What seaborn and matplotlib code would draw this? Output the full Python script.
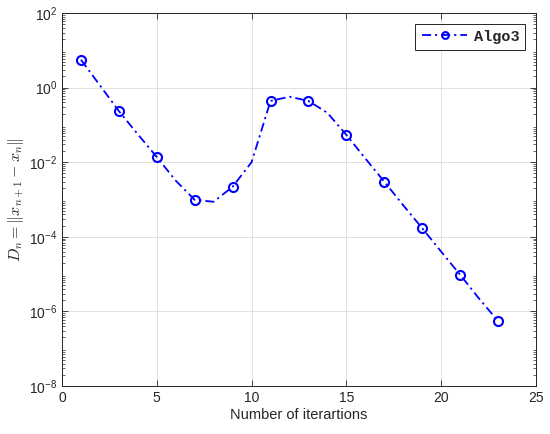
import numpy as np
import pandas as pd
import seaborn as sns
import matplotlib
import matplotlib.pyplot as plt
from matplotlib.ticker import FuncFormatter, FixedLocator, LogLocator, NullFormatter

matplotlib.use('Agg')

# iteration numbers and D_n values
iterations = list(range(1, 24))
dn_values = [5.6, 1.15, 0.235, 0.056, 0.0138, 3.2e-3, 9.8e-4, 8.7e-4, 2.2e-3, 1.0e-2,
             0.44, 0.57, 0.44, 0.21, 0.054, 0.0126, 3.0e-3, 7.0e-4, 1.7e-4, 4.0e-5,
             9.6e-6, 2.2e-6, 5.5e-7]
series_name = 'Algo3'

df = pd.DataFrame({'n': iterations, 'Dn': dn_values, 'algo': series_name})

sns.set_style('ticks')
plt.rcParams['font.family'] = ['Liberation Sans', 'DejaVu Sans']
plt.rcParams['axes.edgecolor'] = '#262626'
plt.rcParams['xtick.color'] = '#262626'
plt.rcParams['ytick.color'] = '#262626'

fig = plt.figure(figsize=(5.5, 4.34), dpi=100)
ax = fig.add_axes([0.1127, 0.1106, 0.8618, 0.8594])

sns.lineplot(data=df, x='n', y='Dn', ax=ax, color='#0000ff', linewidth=1.3,
             linestyle=(0, (5, 2.2, 1.2, 2.2)), marker='o', markersize=6.5,
             markerfacecolor='none', markeredgecolor='#0000ff', markeredgewidth=1.5,
             markevery=2, label=series_name, legend=False)

ax.set_yscale('log')
ax.set_xlim(0, 25)
ax.set_ylim(1e-8, 1e2)
ax.set_xticks([0, 5, 10, 15, 20, 25])
ax.yaxis.set_major_locator(FixedLocator([1e-8, 1e-6, 1e-4, 1e-2, 1e0, 1e2]))
ax.yaxis.set_minor_locator(LogLocator(base=10, subs=np.arange(2, 10), numticks=20))
ax.yaxis.set_minor_formatter(NullFormatter())
ax.yaxis.set_major_formatter(FuncFormatter(lambda v, p: r'$\mathregular{10^{%d}}$' % round(np.log10(v))))

ax.tick_params(which='both', direction='in', top=True, right=True, labelsize=10)
ax.tick_params(which='major', length=4, width=0.6)
ax.tick_params(which='minor', length=2, width=0.5)
ax.grid(True, which='major', color='#dcdcdc', linewidth=0.6)
for s in ax.spines.values():
    s.set_linewidth(0.7)

ax.set_xlabel('Number of iterartions', fontsize=10.5, labelpad=2)
ax.set_ylabel(r'$D_n = \Vert x_{n+1} - x_n\Vert$', fontsize=11.5, math_fontfamily='cm', labelpad=2)

leg = ax.legend(loc='upper right', frameon=True, fancybox=False, handlelength=3.0,
                markerscale=0.75,
                prop={'family': 'Liberation Mono', 'weight': 'bold', 'size': 11},
                borderaxespad=0.7, borderpad=0.4, handletextpad=0.4)
leg.get_frame().set_edgecolor('#262626')
leg.get_frame().set_linewidth(0.7)
leg.get_frame().set_alpha(1)

fig.savefig('out.png', dpi=100)
